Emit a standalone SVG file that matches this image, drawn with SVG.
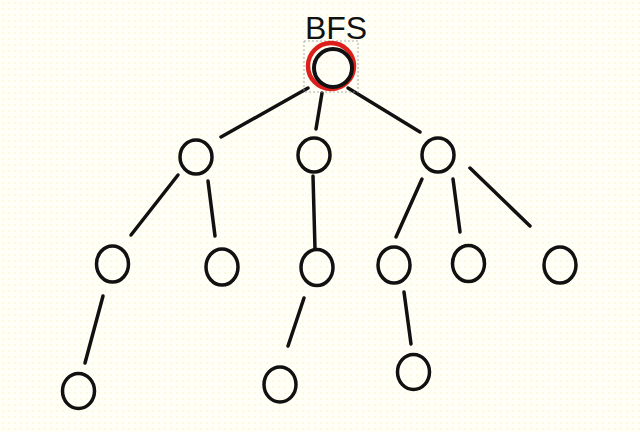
<svg xmlns="http://www.w3.org/2000/svg" width="640" height="432" viewBox="0 0 640 432">
<style>
.n{fill:none;stroke:#111;stroke-width:3.5}
.e{stroke:#111;stroke-width:3.5;stroke-linecap:round;fill:none}
.t{font-family:"Liberation Sans",Arial,sans-serif;font-size:32px;fill:#111;text-anchor:middle}
</style>
<defs>
<pattern id="dots" width="6" height="6" patternUnits="userSpaceOnUse">
<circle cx="3" cy="3" r="0.7" fill="#f3edb0"/>
</pattern>
</defs>
<rect width="640" height="432" fill="#fffff7"/>
<rect width="640" height="432" fill="url(#dots)"/>
<g id="connectors">
<line class="e" x1="308" y1="88" x2="221" y2="137"/>
<line class="e" x1="322" y1="93" x2="316" y2="129"/>
<line class="e" x1="348" y1="88" x2="420" y2="132"/>
<line class="e" x1="178" y1="175" x2="131" y2="235"/>
<line class="e" x1="208" y1="181" x2="215" y2="236"/>
<line class="e" x1="313" y1="176" x2="315" y2="249"/>
<line class="e" x1="422" y1="179" x2="396" y2="237"/>
<line class="e" x1="453" y1="179" x2="460" y2="232"/>
<line class="e" x1="470" y1="168" x2="530" y2="226"/>
<line class="e" x1="103" y1="296" x2="85" y2="363"/>
<line class="e" x1="304" y1="298" x2="288" y2="346"/>
<line class="e" x1="404" y1="292" x2="411" y2="344"/>
</g>
<g id="root">
<text class="t" x="336" y="39">BFS</text>
<rect x="304" y="41" width="54" height="51" fill="none" stroke="#999" stroke-width="0.8" stroke-dasharray="2,2"/>
<circle cx="331" cy="66" r="23" fill="none" stroke="#dc1f1a" stroke-width="4.5"/>
<circle cx="333" cy="68" r="19" class="n" style="stroke-width:4"/>
</g>
<g id="n1"><ellipse class="n" cx="196" cy="157" rx="16" ry="17"/></g>
<g id="n2"><ellipse class="n" cx="314" cy="155" rx="16" ry="17"/></g>
<g id="n3"><ellipse class="n" cx="438" cy="155" rx="16" ry="17"/></g>
<g id="n4"><ellipse class="n" cx="112.5" cy="264" rx="16" ry="18"/></g>
<g id="n5"><ellipse class="n" cx="222" cy="267" rx="16" ry="18"/></g>
<g id="n6"><ellipse class="n" cx="317" cy="267.5" rx="16" ry="18"/></g>
<g id="n7"><ellipse class="n" cx="394" cy="265" rx="16" ry="18"/></g>
<g id="n8"><ellipse class="n" cx="468.5" cy="263.5" rx="16" ry="18"/></g>
<g id="n9"><ellipse class="n" cx="560" cy="265" rx="16" ry="18"/></g>
<g id="n10"><ellipse class="n" cx="78.5" cy="391" rx="16" ry="17.5"/></g>
<g id="n11"><ellipse class="n" cx="280" cy="384.5" rx="16" ry="17.5"/></g>
<g id="n12"><ellipse class="n" cx="413.5" cy="372" rx="16" ry="17.5"/></g>
</svg>
